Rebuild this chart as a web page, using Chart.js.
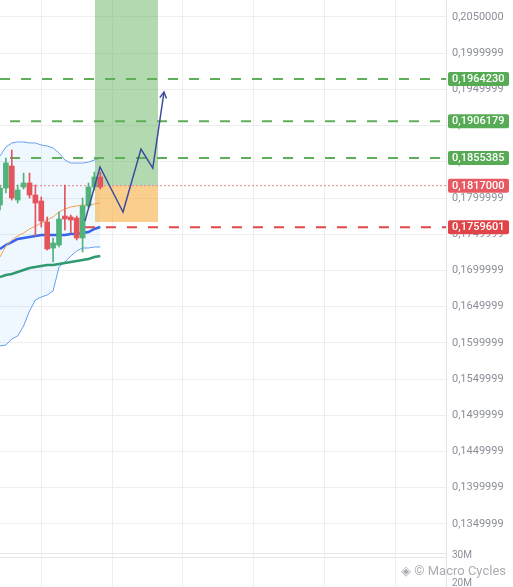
<!DOCTYPE html>
<html>
<head>
<meta charset="utf-8">
<script src="https://cdn.jsdelivr.net/npm/chart.js@4.4.1/dist/chart.umd.min.js"></script>
<style>
  html, body { margin: 0; padding: 0; background: #fff; }
  #wrap { width: 513px; height: 587px; }
</style>
</head>
<body>
<div id="wrap"><canvas id="price-chart"></canvas></div>
<script>
// Candles (x = bar number)
const opens  = [0.17903, 0.18138, 0.18442, 0.17972, 0.18152, 0.18207, 0.18041, 0.17959, 0.17669, 0.17309, 0.17351, 0.17751, 0.17738, 0.17724, 0.17448, 0.17890, 0.18152, 0.18290];
const highs  = [0.18180, 0.18553, 0.18663, 0.18180, 0.18345, 0.18345, 0.18180, 0.18014, 0.17738, 0.17448, 0.17807, 0.18180, 0.17765, 0.17751, 0.18000, 0.18207, 0.18359, 0.18359];
const lows   = [0.17834, 0.18069, 0.17972, 0.17931, 0.18124, 0.18000, 0.17475, 0.17600, 0.17282, 0.17116, 0.17323, 0.17558, 0.17517, 0.17420, 0.17254, 0.17862, 0.18110, 0.18124];
const closes = [0.18138, 0.18484, 0.18000, 0.18110, 0.18207, 0.18041, 0.17931, 0.17682, 0.17296, 0.17379, 0.17710, 0.17710, 0.17696, 0.17448, 0.17890, 0.18152, 0.18290, 0.18152];

// Indicators
const bbUpper = [0.18580, 0.18704, 0.18760, 0.18774, 0.18774, 0.18760, 0.18760, 0.18732, 0.18718, 0.18691, 0.18622, 0.18525, 0.18483, 0.18483, 0.18483, 0.18497, 0.18525, 0.18553];
const bbLower = [0.15956, 0.15970, 0.16053, 0.16094, 0.16232, 0.16439, 0.16591, 0.16633, 0.16660, 0.16716, 0.17047, 0.17116, 0.17199, 0.17268, 0.17309, 0.17309, 0.17323, 0.17323];
const bbBasis = [0.17185, 0.17337, 0.17420, 0.17475, 0.17517, 0.17572, 0.17613, 0.17655, 0.17696, 0.17738, 0.17807, 0.17848, 0.17876, 0.17890, 0.17903, 0.17903, 0.17917, 0.17931];
const maBlue  = [0.17296, 0.17351, 0.17392, 0.17434, 0.17448, 0.17461, 0.17475, 0.17489, 0.17489, 0.17489, 0.17489, 0.17489, 0.17503, 0.17503, 0.17517, 0.17530, 0.17572, 0.17600];
const maGreen = [0.16909, 0.16937, 0.16950, 0.16978, 0.17006, 0.17033, 0.17047, 0.17061, 0.17075, 0.17075, 0.17088, 0.17102, 0.17116, 0.17130, 0.17144, 0.17158, 0.17185, 0.17199];

// Horizontal levels
const targetLevels = [0.1964230, 0.1906179, 0.1855385];
const targetStarts = [0, 1.7, 1.7];
const stopLevel = 0.1759601;
const stopStart = 14.4;
const lastPrice = 0.1817;

// Long position box
const boxStart = 16.1;
const boxEnd = 26.8;
const boxTarget = 0.215;
const boxEntry = 0.1817;
const boxStop = 0.1767;

// Projected path
const pathX = [14.4, 16.95, 20.85, 23.9, 25.9, 27.8];
const pathY = [0.1768, 0.18428, 0.17807, 0.18677, 0.18414, 0.19464];

// Axes
const priceTicks = [0.205, 0.2, 0.195, 0.19, 0.185, 0.18, 0.175, 0.17, 0.165, 0.16, 0.155, 0.15, 0.145, 0.14, 0.135];
const priceTickLabels = ['0,2050000', '0,1999999', '0,1949999', '0,1899999', '0,1849999', '0,1799999', '0,1749999',
  '0,1699999', '0,1649999', '0,1599999', '0,1549999', '0,1499999', '0,1449999', '0,1399999', '0,1349999'];
const volumeTicks = [20e6, 30e6];
const volumeTickLabels = ['20M', '30M'];
const xGridTicks = [7, 19, 31, 43, 55, 67];
const xMin = 0, xMax = 75.6;

const upColor = '#4fb37a';
const downColor = '#e5535d';
const gridColor = '#eeeef1';
const labelColor = '#8c8f99';

Chart.defaults.font.family = 'Roboto, "DejaVu Sans", sans-serif';

const idx = opens.map((o, i) => i);
const candleColors = opens.map((o, i) => closes[i] >= o ? upColor : downColor);
const series = arr => arr.map((v, i) => ({ x: i, y: v }));
const hLine = (v, start) => [{ x: start, y: v }, { x: xMax, y: v }];

// no extra padding around the plot, so the plot fills the canvas
const noPad = s => { s.paddingTop = 0; s.paddingBottom = 0; s.paddingLeft = 0; s.paddingRight = 0; };

let datasets = [];

// projected path (top-most)
datasets.push({
    type: 'line',
    data: pathX.map((x, i) => ({ x: x, y: pathY[i] })),
    borderColor: '#3b4c9c',
    borderWidth: 1.5,
    pointRadius: 0,
    order: 0
});

// candle bodies and wicks
datasets.push({
    type: 'bar',
    data: idx.map(i => ({ x: i, y: [opens[i], closes[i]] })),
    backgroundColor: candleColors,
    barThickness: 5,
    grouped: false,
    order: 1
});
datasets.push({
    type: 'bar',
    data: idx.map(i => ({ x: i, y: [lows[i], highs[i]] })),
    backgroundColor: candleColors,
    barThickness: 1,
    grouped: false,
    order: 2
});

// levels
targetLevels.forEach((v, i) => {
    datasets.push({
        type: 'line', data: hLine(v, targetStarts[i]),
        borderColor: '#5fae5a', borderWidth: 2, borderDash: [10, 11],
        pointRadius: 0, order: 3
    });
});
datasets.push({
    type: 'line', data: hLine(stopLevel, stopStart),
    borderColor: '#e04848', borderWidth: 2, borderDash: [10, 11],
    pointRadius: 0, order: 3
});
datasets.push({
    type: 'line', data: hLine(lastPrice, xMin),
    borderColor: '#ee7f8a', borderWidth: 1, borderDash: [2, 2],
    pointRadius: 0, order: 3
});

// moving averages
datasets.push({ type: 'line', data: series(bbBasis), borderColor: '#f5a04c', borderWidth: 1, pointRadius: 0, order: 4 });
datasets.push({ type: 'line', data: series(maBlue), borderColor: '#3563ee', borderWidth: 2.5, pointRadius: 0, order: 4 });
datasets.push({ type: 'line', data: series(maGreen), borderColor: '#2f9a70', borderWidth: 2.5, pointRadius: 0, order: 4 });

// position box
datasets.push({
    type: 'line', data: [{ x: boxStart, y: boxTarget }, { x: boxEnd, y: boxTarget }],
    borderWidth: 0, pointRadius: 0, fill: { value: boxEntry },
    backgroundColor: 'rgba(86,170,80,0.45)', order: 5
});
datasets.push({
    type: 'line', data: [{ x: boxStart, y: boxEntry }, { x: boxEnd, y: boxEntry }],
    borderWidth: 0, pointRadius: 0, fill: { value: boxStop },
    backgroundColor: 'rgba(245,160,30,0.5)', order: 5
});

// bollinger bands
datasets.push({
    type: 'line', data: series(bbUpper), borderColor: '#679ff0', borderWidth: 1,
    pointRadius: 0, fill: '+1', backgroundColor: 'rgba(33,150,243,0.07)', order: 6
});
datasets.push({
    type: 'line', data: series(bbLower), borderColor: '#679ff0', borderWidth: 1,
    pointRadius: 0, order: 6
});

const fmtPrice = v => v.toFixed(7).replace('.', ',');

const overlay = {
    id: 'overlay',
    afterDatasetsDraw(chart) {
        // arrow head at the end of the projected path
        const pts = chart.getDatasetMeta(0).data;
        const a = pts[pts.length - 2], b = pts[pts.length - 1];
        const ang = Math.atan2(b.y - a.y, b.x - a.x);
        const ctx = chart.ctx;
        ctx.save();
        ctx.strokeStyle = '#3b4c9c';
        ctx.lineWidth = 1.5;
        ctx.beginPath();
        ctx.moveTo(b.x - 7 * Math.cos(ang - 0.5), b.y - 7 * Math.sin(ang - 0.5));
        ctx.lineTo(b.x, b.y);
        ctx.lineTo(b.x - 7 * Math.cos(ang + 0.5), b.y - 7 * Math.sin(ang + 0.5));
        ctx.stroke();
        ctx.restore();
    },
    afterDraw(chart) {
        const ctx = chart.ctx;
        const y = chart.scales.y;
        const vol = chart.scales.yVol;
        const area = chart.chartArea;
        ctx.save();

        // pane separator
        ctx.strokeStyle = '#e6e6ea';
        ctx.lineWidth = 1;
        [vol.top - 2, vol.top + 2].forEach(py => {
            ctx.beginPath();
            ctx.moveTo(0, py + 0.5);
            ctx.lineTo(area.right, py + 0.5);
            ctx.stroke();
        });

        // price tags
        const tags = targetLevels.map(v => [v, '#57ab55'])
            .concat([[lastPrice, '#e85a63'], [stopLevel, '#e04448']]);
        ctx.font = '500 11px Roboto';
        ctx.textBaseline = 'middle';
        tags.forEach(([v, c]) => {
            const py = y.getPixelForValue(v);
            ctx.fillStyle = c;
            ctx.beginPath();
            ctx.roundRect(area.right + 2, py - 7, 61, 14, 2);
            ctx.fill();
            ctx.fillStyle = '#ffffff';
            ctx.fillText(fmtPrice(v), area.right + 6, py + 0.5);
        });

        // watermark
        ctx.fillStyle = '#acacb2';
        ctx.font = '13px Roboto, "DejaVu Sans"';
        ctx.textAlign = 'right';
        ctx.fillText('\u25C8 \u00A9 Macro Cycles', 506, 572);
        ctx.restore();
    }
};

new Chart(document.getElementById('price-chart'), {
    type: 'bar',
    data: { datasets: datasets },
    options: {
        responsive: true,
        maintainAspectRatio: false,
        devicePixelRatio: 1,
        animation: false,
        layout: { padding: 0, autoPadding: false },
        plugins: {
            legend: { display: false },
            tooltip: { enabled: false }
        },
        scales: {
            x: {
                type: 'linear',
                min: xMin,
                max: xMax,
                offset: false,
                afterBuildTicks: s => { s.ticks = xGridTicks.map(v => ({ value: v })); },
                afterFit: s => { s.height = 0; noPad(s); },
                ticks: { display: false },
                grid: { color: gridColor, drawTicks: false, offset: false },
                border: { display: false }
            },
            y: {
                type: 'linear',
                position: 'right',
                stack: 'panes',
                stackWeight: 555,
                min: 0.130691,
                max: 0.207348,
                afterBuildTicks: s => { s.ticks = priceTicks.map(v => ({ value: v })); },
                afterFit: s => { s.width = 67; noPad(s); },
                ticks: {
                    color: labelColor,
                    font: { size: 11 },
                    padding: 6,
                    autoSkip: false,
                    callback: (v, i) => priceTickLabels[i]
                },
                grid: { color: gridColor, drawTicks: false },
                border: { color: '#e3e3e8' }
            },
            yVol: {
                type: 'linear',
                position: 'right',
                stack: 'panes',
                stackWeight: 32,
                min: 18.52e6,
                max: 30.37e6,
                afterBuildTicks: s => { s.ticks = volumeTicks.map(v => ({ value: v })); },
                afterFit: s => { s.width = 67; noPad(s); },
                ticks: {
                    color: labelColor,
                    font: { size: 10 },
                    padding: 6,
                    autoSkip: false,
                    callback: (v, i) => volumeTickLabels[i]
                },
                grid: { display: false, drawTicks: false },
                border: { color: '#e3e3e8' }
            }
        }
    },
    plugins: [overlay]
});
</script>
</body>
</html>
